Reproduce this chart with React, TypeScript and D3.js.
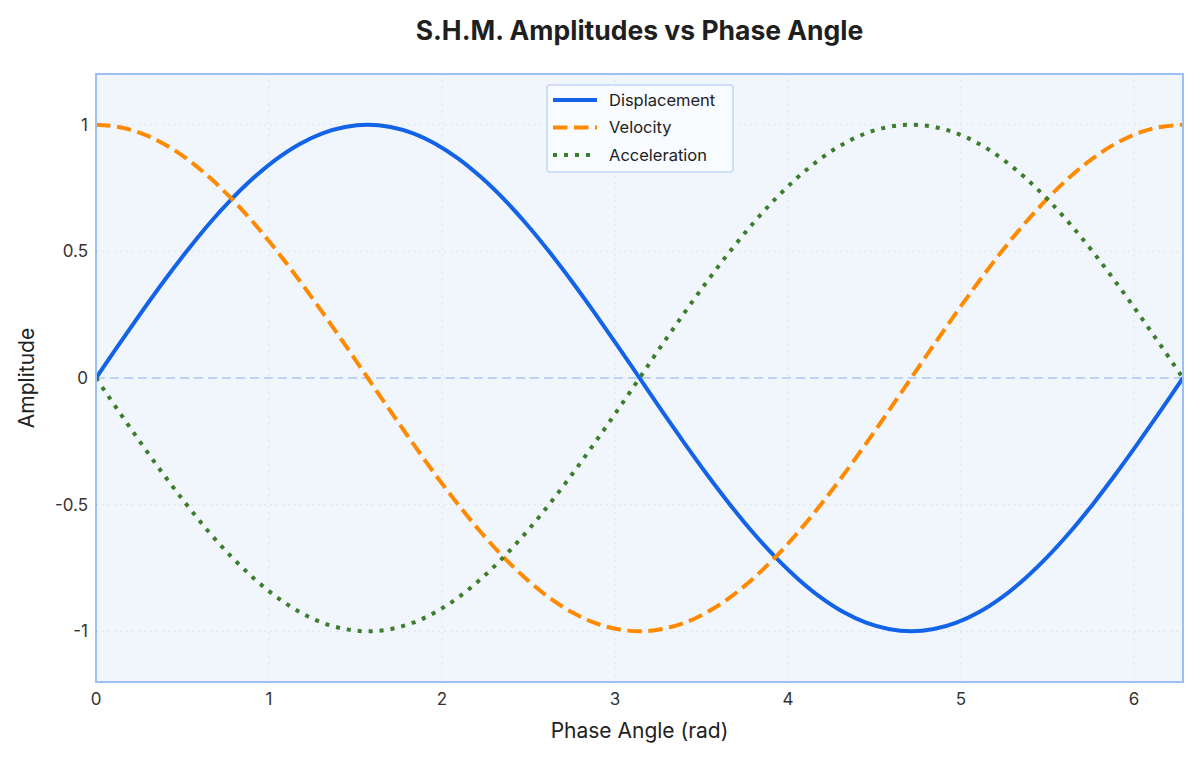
import React from "react";
import * as d3 from "d3";

// Phase angle samples (rad), step π/24
const phase = [
  0, 0.131, 0.262, 0.393, 0.524, 0.654, 0.785, 0.916, 1.047, 1.178, 1.309, 1.44,
  1.571, 1.702, 1.833, 1.963, 2.094, 2.225, 2.356, 2.487, 2.618, 2.749, 2.88, 3.011,
  3.142, 3.272, 3.403, 3.534, 3.665, 3.796, 3.927, 4.058, 4.189, 4.32, 4.451, 4.581,
  4.712, 4.843, 4.974, 5.105, 5.236, 5.367, 5.498, 5.629, 5.76, 5.89, 6.021, 6.152, 6.283,
];

const displacement = [
  0, 0.131, 0.259, 0.383, 0.5, 0.609, 0.707, 0.793, 0.866, 0.924, 0.966, 0.991,
  1, 0.991, 0.966, 0.924, 0.866, 0.793, 0.707, 0.609, 0.5, 0.383, 0.259, 0.131,
  0, -0.131, -0.259, -0.383, -0.5, -0.609, -0.707, -0.793, -0.866, -0.924, -0.966, -0.991,
  -1, -0.991, -0.966, -0.924, -0.866, -0.793, -0.707, -0.609, -0.5, -0.383, -0.259, -0.131, 0,
];

const velocity = [
  1, 0.991, 0.966, 0.924, 0.866, 0.793, 0.707, 0.609, 0.5, 0.383, 0.259, 0.131,
  0, -0.131, -0.259, -0.383, -0.5, -0.609, -0.707, -0.793, -0.866, -0.924, -0.966, -0.991,
  -1, -0.991, -0.966, -0.924, -0.866, -0.793, -0.707, -0.609, -0.5, -0.383, -0.259, -0.131,
  0, 0.131, 0.259, 0.383, 0.5, 0.609, 0.707, 0.793, 0.866, 0.924, 0.966, 0.991, 1,
];

const acceleration = [
  0, -0.131, -0.259, -0.383, -0.5, -0.609, -0.707, -0.793, -0.866, -0.924, -0.966, -0.991,
  -1, -0.991, -0.966, -0.924, -0.866, -0.793, -0.707, -0.609, -0.5, -0.383, -0.259, -0.131,
  0, 0.131, 0.259, 0.383, 0.5, 0.609, 0.707, 0.793, 0.866, 0.924, 0.966, 0.991,
  1, 0.991, 0.966, 0.924, 0.866, 0.793, 0.707, 0.609, 0.5, 0.383, 0.259, 0.131, 0,
];

const xTicks = [0, 1, 2, 3, 4, 5, 6];
const yTicks = [-1, -0.5, 0, 0.5, 1];
const seriesNames = ["Displacement", "Velocity", "Acceleration"];

const FONT = "Inter, Lato, 'Noto Sans', sans-serif";

export default function App() {
  const W = 1200;
  const H = 760;
  const m = { left: 96, right: 17, top: 74, bottom: 78 };
  const pw = W - m.left - m.right;
  const ph = H - m.top - m.bottom;

  const x = d3.scaleLinear().domain([0, 2 * Math.PI]).range([m.left, m.left + pw]);
  const y = d3.scaleLinear().domain([-1.2, 1.2]).range([m.top + ph, m.top]);

  const series = [
    { name: seriesNames[0], values: displacement, color: "#1363e8", dash: "none" },
    { name: seriesNames[1], values: velocity, color: "#ff8a00", dash: "14.5 6.5" },
    { name: seriesNames[2], values: acceleration, color: "#3b7d2a", dash: "4 7" },
  ];

  const line = (vals: number[]) =>
    d3
      .line<number>()
      .x((_, i) => x(phase[i]))
      .y((v) => y(v))
      .curve(d3.curveCatmullRom)(vals) || "";

  const lgX = 547;
  const lgY = 85;

  return (
    <svg width={W} height={H} style={{ display: "block", position: "absolute", left: 0, top: 0 }} fontFamily={FONT}>
      <rect x={0} y={0} width={W} height={H} fill="#ffffff" />
      <text x={m.left + pw / 2} y={40} textAnchor="middle" fontSize={26.5} fontWeight={700} fill="#1f1f1f">
        S.H.M. Amplitudes vs Phase Angle
      </text>

      <defs>
        <clipPath id="plotClip">
          <rect x={m.left} y={m.top} width={pw} height={ph} />
        </clipPath>
      </defs>

      <rect x={m.left} y={m.top} width={pw} height={ph} fill="#f1f6fd" />

      {xTicks.map((t) => (
        <line key={"gx" + t} x1={x(t)} x2={x(t)} y1={m.top} y2={m.top + ph} stroke="#dfe7f3" strokeWidth={1.2} strokeDasharray="2 4" />
      ))}
      {yTicks.map((t) => (
        <line key={"gy" + t} x1={m.left} x2={m.left + pw} y1={y(t)} y2={y(t)} stroke="#dfe7f3" strokeWidth={1.2} strokeDasharray="2 4" />
      ))}

      <line x1={m.left} x2={m.left + pw} y1={y(0)} y2={y(0)} stroke="#bcd3f5" strokeWidth={1.8} strokeDasharray="9 5" />

      <g clipPath="url(#plotClip)">
        {series.map((s) => (
          <path
            key={s.name}
            d={line(s.values)}
            fill="none"
            stroke={s.color}
            strokeWidth={4}
            strokeDasharray={s.dash}
            strokeLinecap="butt"
          />
        ))}
      </g>

      <rect x={m.left} y={m.top} width={pw} height={ph} fill="none" stroke="#9cc0f4" strokeWidth={2} />

      {xTicks.map((t) => (
        <text key={"tx" + t} x={x(t)} y={m.top + ph + 23} textAnchor="middle" fontSize={17} fill="#333">
          {t}
        </text>
      ))}
      {yTicks.map((t) => (
        <text key={"ty" + t} x={m.left - 8} y={y(t)} dy="0.35em" textAnchor="end" fontSize={17} fill="#333">
          {t === 0 ? "0" : String(t)}
        </text>
      ))}

      <text x={m.left + pw / 2} y={738} textAnchor="middle" fontSize={21} fill="#222">
        Phase Angle (rad)
      </text>
      <text transform={`translate(34,${y(0)}) rotate(-90)`} textAnchor="middle" fontSize={21} fill="#222">
        Amplitude
      </text>

      <g>
        <rect x={lgX} y={lgY} width={186} height={87} rx={3} fill="#f8fbff" fillOpacity={0.95} stroke="#c4d8f6" strokeWidth={1.6} />
        {series.map((s, i) => {
          const cy = lgY + 15 + i * 27.5;
          return (
            <g key={"lg" + s.name}>
              <line x1={lgX + 6} x2={lgX + 50} y1={cy} y2={cy} stroke={s.color} strokeWidth={4} strokeDasharray={s.dash} />
              <text x={lgX + 62} y={cy} dy="0.35em" fontSize={16.5} fill="#222">
                {s.name}
              </text>
            </g>
          );
        })}
      </g>
    </svg>
  );
}
